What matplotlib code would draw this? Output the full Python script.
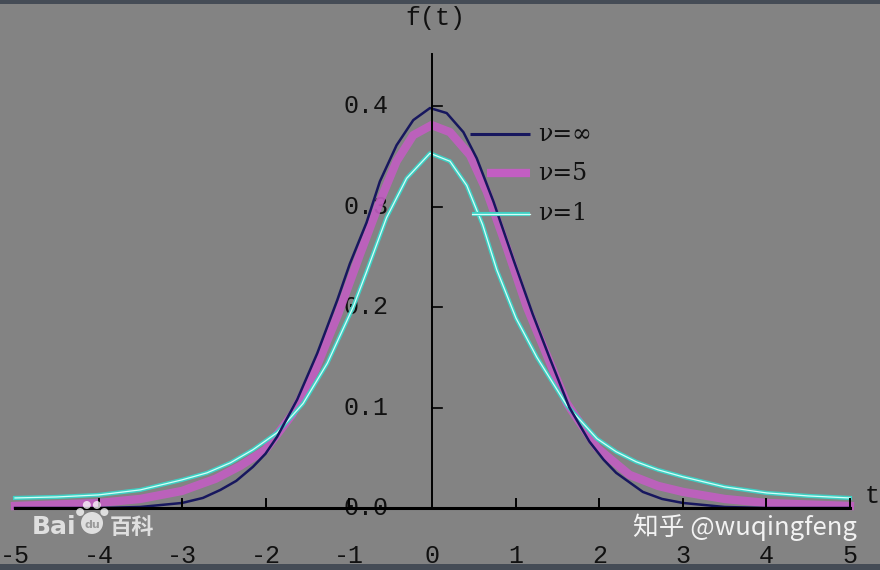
import matplotlib
matplotlib.use("Agg")
import matplotlib.pyplot as plt
from matplotlib.patches import Rectangle

# values (t, f(t))
t_inf = [-5, -4, -3.5, -3.0, -2.75, -2.54, -2.35, -2.15, -2.0, -1.86, -1.62, -1.38, -1.14, -0.99,
         -0.79, -0.63, -0.43, -0.23, -0.03, 0.17, 0.37, 0.53, 0.73, 0.97, 1.2, 1.4, 1.64, 1.88,
         2.05, 2.2, 2.52, 2.75, 3.0, 3.5, 4, 5]
f_inf = [0.0, 0.0, 0.001, 0.005, 0.01, 0.018, 0.027, 0.041, 0.054, 0.071, 0.108, 0.154, 0.207, 0.243,
         0.284, 0.325, 0.361, 0.386, 0.398, 0.393, 0.374, 0.348, 0.305, 0.247, 0.193, 0.15, 0.1, 0.066,
         0.048, 0.035, 0.016, 0.009, 0.005, 0.001, 0.0, 0.0]

t_5 = [-5, -4, -3.5, -3.0, -2.6, -2.3, -2.0, -1.68, -1.4, -1.13, -0.87, -0.63, -0.43, -0.23, -0.01,
       0.21, 0.45, 0.65, 0.89, 1.13, 1.37, 1.61, 1.97, 2.36, 2.7, 3.0, 3.5, 4, 5]
f_5 = [0.002, 0.005, 0.009, 0.017, 0.029, 0.042, 0.058, 0.093, 0.138, 0.193, 0.252, 0.305, 0.345, 0.371, 0.381,
       0.374, 0.351, 0.315, 0.259, 0.2, 0.152, 0.104, 0.06, 0.033, 0.022, 0.016, 0.009, 0.005, 0.002]

t_1 = [-5, -4.5, -4, -3.5, -3.0, -2.7, -2.42, -2.15, -1.86, -1.55, -1.26, -0.95, -0.79, -0.55, -0.31, -0.03,
       0.21, 0.41, 0.6, 0.77, 1.0, 1.25, 1.61, 1.97, 2.2, 2.44, 2.7, 3.0, 3.5, 4, 4.5, 5]
f_1 = [0.01, 0.011, 0.013, 0.018, 0.028, 0.035, 0.045, 0.058, 0.075, 0.104, 0.144, 0.2, 0.235, 0.289, 0.328, 0.353,
       0.345, 0.321, 0.282, 0.237, 0.189, 0.15, 0.102, 0.069, 0.056, 0.046, 0.038, 0.031, 0.021, 0.015, 0.012, 0.01]

x_ticks = [-5, -4, -3, -2, -1, 0, 1, 2, 3, 4, 5]
y_ticks = [0.0, 0.1, 0.2, 0.3, 0.4]
legend_labels = ["ν=∞", "ν=5", "ν=1"]

NAVY = "#17175e"
MAGENTA = "#c25ec2"
CYAN = "#3fd0c4"
BG = "#838383"
BAND = "#454c56"
FONT = "Liberation Mono"

fig = plt.figure(figsize=(8.8, 5.7), dpi=100, facecolor=BG)
ax = fig.add_axes([0, 0, 1, 1])
ax.set_facecolor(BG)
ax.axis("off")
ax.set_xlim(-5.18, 5.36)
ax.set_ylim(-0.0617, 0.5055)

# curves
ax.plot(t_5, f_5, color=MAGENTA, lw=6, alpha=0.9, solid_joinstyle="round", zorder=2)
ax.plot(t_1, f_1, color=CYAN, lw=3, solid_joinstyle="round", zorder=3)
ax.plot(t_1, f_1, color="#d4fff8", lw=0.9, zorder=3)
ax.plot(t_inf, f_inf, color=NAVY, lw=1.8, solid_joinstyle="round", zorder=4)

# axes lines
ax.plot([-5, 5], [0, 0], color="black", lw=2.2, zorder=5)
ax.plot([0, 0], [0, 0.452], color="black", lw=1.4, zorder=5)
for xt in x_ticks:
    if xt != 0 and xt != -5:
        ax.plot([xt, xt], [0, 0.009], color="black", lw=1.4, zorder=5)
for yt in y_ticks[1:]:
    ax.plot([0, 0.11], [yt, yt], color="black", lw=1.2, zorder=5)

# tick labels
for xt in x_ticks:
    ax.text(xt, -0.048, f"{xt}", ha="center", va="center", fontsize=18,
            family=FONT, color="#111111", zorder=6)
for yt in y_ticks:
    ax.text(-0.8, yt, f"{yt:.1f}", ha="center", va="center", fontsize=18,
            family=FONT, color="#111111", zorder=1)
ax.text(0.04, 0.488, "f(t)", ha="center", va="center", fontsize=18, family=FONT, color="#111111")
ax.text(5.27, 0.012, "t", ha="center", va="center", fontsize=18, family=FONT, color="#111111")

# legend drawn by hand like the original
leg_y = [0.372, 0.333, 0.293]
leg_style = [(NAVY, 2.2, 0.45), (MAGENTA, 6, 0.65), (CYAN, 3, 0.47)]
for lab, ly, (c, w, x0) in zip(legend_labels, leg_y, leg_style):
    ax.plot([x0, 1.17], [ly, ly], color=c, lw=w, solid_capstyle="butt", zorder=4)
    if c == CYAN:
        ax.plot([x0, 1.17], [ly, ly], color="#d4fff8", lw=0.9, zorder=4)
    ax.text(1.27, ly, lab, ha="left", va="center", fontsize=17,
            family=["DejaVu Serif"], color="#111111")

# watermarks
wm = dict(color="white", alpha=0.75, zorder=7)
ax.text(-4.8, -0.019, "Bai", ha="left", va="center", fontsize=18,
        family=["DejaVu Sans"], fontweight="bold", **wm)
ax.scatter([-4.078], [-0.0149], s=250, color="white", alpha=0.75, edgecolors="none", zorder=7)
ax.scatter([-4.22, -4.14, -4.02, -3.93], [-0.004, 0.003, 0.003, -0.004], s=33,
           color="white", alpha=0.75, edgecolors="none", zorder=7)
ax.text(-4.078, -0.017, "du", ha="center", va="center", fontsize=8, color="#9a9a9a",
        fontweight="bold", zorder=8)
ax.text(-3.87, -0.019, "百科", ha="left", va="center", fontsize=16,
        family=["Noto Sans CJK SC"], fontweight="bold", **wm)
ax.text(5.08, -0.019, "知乎 @wuqingfeng", ha="right", va="center", fontsize=18.5,
        family=["Noto Sans CJK SC", "DejaVu Sans"], color="white", alpha=0.9, zorder=7)

# dark bands at top and bottom
fig.patches.append(Rectangle((0, 1 - 4 / 570), 1, 4 / 570, transform=fig.transFigure,
                             facecolor=BAND, edgecolor="none", zorder=10))
fig.patches.append(Rectangle((0, 0), 1, 6 / 570, transform=fig.transFigure,
                             facecolor=BAND, edgecolor="none", zorder=10))

fig.savefig("out.png", dpi=100, facecolor=BG)
plt.close(fig)
